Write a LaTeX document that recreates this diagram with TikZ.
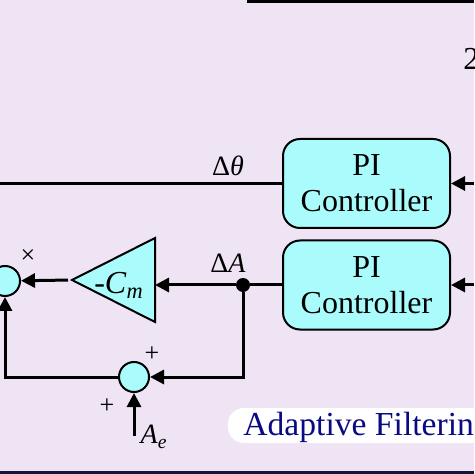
\documentclass[tikz,border=0pt]{standalone}
\usepackage{fontspec}
\setmainfont{Liberation Serif}
\usetikzlibrary{arrows.meta,positioning}
\definecolor{bgcol}{RGB}{239,228,243}
\definecolor{blockfill}{RGB}{170,252,252}
\definecolor{bannercol}{RGB}{10,10,130}
\definecolor{railcol}{RGB}{20,20,60}

\begin{document}
\begin{tikzpicture}[x=0.5pt, y=-0.5pt,
  pibox/.style={draw, line width=1pt, rounded corners=8.5pt, fill=blockfill, align=center,
                minimum width=83.5pt, minimum height=44.5pt, inner sep=0pt,
                font=\fontsize{16}{18}\selectfont},
  sumnode/.style={circle, draw, line width=1pt, fill=blockfill, minimum size=15pt, inner sep=0pt},
  lbl/.style={font=\fontsize{14}{16}\selectfont, inner sep=0pt},
  sgn/.style={font=\fontsize{13}{15}\selectfont, inner sep=0pt},
  ln/.style={line width=1.5pt},
  ar/.style={-{Triangle[length=7pt,width=7pt]}, line width=1.5pt},
]
  \useasboundingbox (0,0) rectangle (474,474);
  \clip (0,0) rectangle (474,474);
  \fill[bgcol] (0,0) rectangle (474,474);
  \fill[black] (247,0) rectangle (474,3.5);
  \fill[railcol] (0,471) rectangle (474,474);

  % controllers and gain
  \node[pibox] (pi1) at (366.5,183.5) {PI\\Controller};
  \node[pibox] (pi2) at (366.5,285) {PI\\Controller};
  \coordinate (gapex) at (72,280);
  \coordinate (gtop) at (155,238);
  \coordinate (gbot) at (155,322);
  \draw[line width=1pt, fill=blockfill] (gapex) -- (gtop) -- (gbot) -- cycle;
  \node[font=\fontsize{16}{18}\selectfont, inner sep=0pt] (gain) at (119,285) {-\textit{C}\textsubscript{\textit{m}}};
  \node[sumnode] (sum1) at (5,281) {};
  \node[sumnode] (sum2) at (134,377) {};
  \node[circle, fill=black, minimum size=7pt, inner sep=0pt] (dot) at (243,285) {};

  \coordinate (inT) at (474,183.5);
  \coordinate (inA) at (474,285);
  \coordinate (outT) at (0,183.5);
  \coordinate (ae) at (134,436);

  \draw[ar] (inT) -- (pi1.east);
  \draw[ar] (inA) -- (pi2.east);
  \draw[ln] (pi1.west) -- (outT);
  \draw[ln] (pi2.west) -- (dot);
  \draw[ar] (dot) -- (dot -| gtop);
  \draw[ar, shorten <=2pt] (gapex) -- (sum1);
  \draw[ar] (dot) |- (sum2);
  \draw[ar] (sum2) -| (sum1);
  \draw[ar] (ae) -- (sum2);

  % labels
  \node[lbl] (lt) at (228,166) {Δ\textit{θ}};
  \node[lbl] (la) at (228,263) {Δ\textit{A}};
  \node[sgn] (mx) at (28,257) {×};
  \node[sgn] (p1) at (152,354) {+};
  \node[sgn] (p2) at (107,406) {+};
  \node[lbl] (lae) at (154,437) {\textit{A}\textsubscript{\textit{e}}};
  \node[font=\fontsize{16}{18}\selectfont, anchor=base west, inner sep=0pt] (two) at (463,70) {2};

  % banner
  \fill[white, rounded corners=8pt] (228,408) rectangle (490,443);
  \node[font=\fontsize{16.8}{18}\selectfont, text=bannercol, anchor=base west, inner sep=0pt]
       (banner) at (243,435) {Adaptive Filtering};
\end{tikzpicture}
\end{document}
